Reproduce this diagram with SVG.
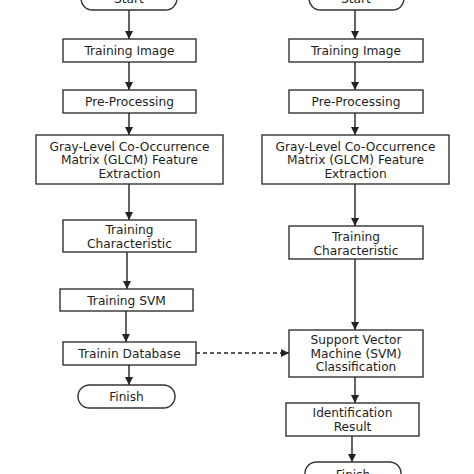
<svg xmlns="http://www.w3.org/2000/svg" width="474" height="474" viewBox="0 0 474 474">
<style>
.b{fill:#fff;stroke:#333;stroke-width:1.4}
.t{font-family:"DejaVu Sans",Verdana,sans-serif;font-size:12.2px;fill:#1e1e1e;text-anchor:middle}
.c{fill:none;stroke:#222;stroke-width:1.4}
</style>
<defs>
<marker id="a" viewBox="0 0 8 8" refX="8" refY="4" markerWidth="8" markerHeight="8" markerUnits="userSpaceOnUse" orient="auto">
<path d="M0,0 L8,4 L0,8 z" fill="#222"/>
</marker>
</defs>
<rect width="474" height="474" fill="#fff"/>
<g id="connectors">
<line class="c" x1="129" y1="10" x2="129" y2="39" marker-end="url(#a)"/>
<line class="c" x1="129" y1="62" x2="129" y2="90" marker-end="url(#a)"/>
<line class="c" x1="129" y1="113" x2="129" y2="135" marker-end="url(#a)"/>
<line class="c" x1="129" y1="184" x2="129" y2="220" marker-end="url(#a)"/>
<line class="c" x1="127" y1="252" x2="127" y2="289" marker-end="url(#a)"/>
<line class="c" x1="126" y1="311" x2="126" y2="342" marker-end="url(#a)"/>
<line class="c" x1="129" y1="365" x2="129" y2="385" marker-end="url(#a)"/>
<line class="c" x1="355" y1="10" x2="355" y2="39" marker-end="url(#a)"/>
<line class="c" x1="355" y1="62" x2="355" y2="90" marker-end="url(#a)"/>
<line class="c" x1="355" y1="113" x2="355" y2="135" marker-end="url(#a)"/>
<line class="c" x1="355" y1="184" x2="355" y2="226" marker-end="url(#a)"/>
<line class="c" x1="355" y1="259" x2="355" y2="330" marker-end="url(#a)"/>
<line class="c" x1="355" y1="377" x2="355" y2="403" marker-end="url(#a)"/>
<line class="c" x1="352" y1="436" x2="352" y2="462" marker-end="url(#a)"/>
<line class="c" x1="196" y1="353" x2="289" y2="353" stroke-dasharray="4,3" marker-end="url(#a)"/>
</g>
<g id="start1"><rect class="b" x="81" y="-13" width="96" height="23" rx="11.5"/><text class="t" x="129" y="3">Start</text></g>
<g id="img1"><rect class="b" x="63" y="39" width="133" height="23"/><text class="t" x="129.5" y="55">Training Image</text></g>
<g id="pre1"><rect class="b" x="63" y="90" width="133" height="23"/><text class="t" x="129.5" y="106">Pre-Processing</text></g>
<g id="glcm1"><rect class="b" x="36" y="135" width="187" height="49"/><text class="t" x="129.5" y="150.5">Gray-Level Co-Occurrence</text><text class="t" x="129.5" y="164">Matrix (GLCM) Feature</text><text class="t" x="129.5" y="177.5">Extraction</text></g>
<g id="char1"><rect class="b" x="63" y="220" width="133" height="32"/><text class="t" x="129.5" y="233.5">Training</text><text class="t" x="129.5" y="247.5">Characteristic</text></g>
<g id="svm1"><rect class="b" x="60" y="289" width="133" height="22"/><text class="t" x="126.5" y="304.5">Training SVM</text></g>
<g id="db1"><rect class="b" x="63" y="342" width="133" height="23"/><text class="t" x="129.5" y="358">Trainin Database</text></g>
<g id="fin1"><rect class="b" x="78" y="385" width="97" height="23" rx="11.5"/><text class="t" x="126.5" y="401">Finish</text></g>
<g id="start2"><rect class="b" x="309" y="-13" width="95" height="23" rx="11.5"/><text class="t" x="356" y="3">Start</text></g>
<g id="img2"><rect class="b" x="289" y="39" width="134" height="23"/><text class="t" x="356" y="55">Training Image</text></g>
<g id="pre2"><rect class="b" x="289" y="90" width="134" height="23"/><text class="t" x="356" y="106">Pre-Processing</text></g>
<g id="glcm2"><rect class="b" x="262" y="135" width="187" height="49"/><text class="t" x="355.5" y="150.5">Gray-Level Co-Occurrence</text><text class="t" x="355.5" y="164">Matrix (GLCM) Feature</text><text class="t" x="355.5" y="177.5">Extraction</text></g>
<g id="char2"><rect class="b" x="289" y="226" width="134" height="33"/><text class="t" x="356" y="240.5">Training</text><text class="t" x="356" y="254.5">Characteristic</text></g>
<g id="svmc"><rect class="b" x="289" y="330" width="134" height="47"/><text class="t" x="356" y="344">Support Vector</text><text class="t" x="356" y="357.5">Machine (SVM)</text><text class="t" x="356" y="371">Classification</text></g>
<g id="ident"><rect class="b" x="286" y="403" width="133" height="33"/><text class="t" x="352.5" y="417">Identification</text><text class="t" x="352.5" y="431">Result</text></g>
<g id="fin2"><rect class="b" x="305" y="462" width="96" height="23" rx="11.5"/><text class="t" x="353" y="478.5">Finish</text></g>
</svg>
